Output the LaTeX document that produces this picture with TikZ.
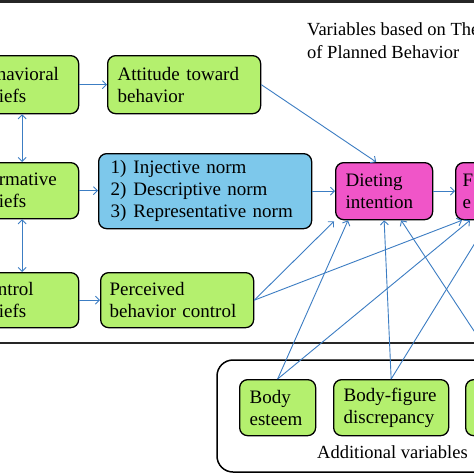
\documentclass[tikz,border=0pt]{standalone}
\usepackage{fontspec}
\setmainfont{Liberation Serif}
\usetikzlibrary{arrows.meta,calc}
\definecolor{boxgreen}{RGB}{180,240,110}
\definecolor{boxblue}{RGB}{125,200,235}
\definecolor{boxpink}{RGB}{240,85,200}
\definecolor{arrowblue}{RGB}{60,125,195}
\begin{document}
\begin{tikzpicture}[x=1pt,y=-1pt,
  box/.style={draw=black, line width=1.3pt, rounded corners=8pt, anchor=north west,
    align=left, inner xsep=10pt, inner ysep=0pt, font=\fontsize{19}{22}\selectfont},
  gbox/.style={box, fill=boxgreen},
  conn/.style={draw=arrowblue, line width=0.9pt, -{Straight Barb[length=4pt,width=8pt]}},
  dconn/.style={draw=arrowblue, line width=0.9pt, {Straight Barb[length=4pt,width=8pt]}-{Straight Barb[length=4pt,width=8pt]}},
  lbl/.style={anchor=base west, align=left, inner sep=0pt, font=\fontsize{18.5}{23}\selectfont}]
\useasboundingbox (0,0) rectangle (474,474);
\clip (0,0) rectangle (474,474);
\fill[white] (0,0) rectangle (474,474);
% frames
\draw[line width=2.2pt, draw=black!85] (-50,1.5) rectangle (600,343);
\draw[line width=1.5pt, rounded corners=16pt] (217,360) rectangle (700,472);
% labels
\node[lbl] (title) at (307,58) {Variables based on Theory\\of Planned Behavior};
\node[lbl] (addl) at (317,458) {Additional variables};
% boxes
\node[gbox, text width=93pt, minimum height=58pt] (beh) at (-35,55) {Behavioral\\beliefs};
\node[gbox, text width=133pt, minimum height=58pt] (att) at (107,55) {Attitude toward\\behavior};
\node[gbox, text width=93pt, minimum height=56pt] (norm) at (-35,162) {Normative\\beliefs};
\node[box, fill=boxblue, inner xsep=12pt, text width=189pt, minimum height=75pt] (inj) at (98,153) {1)\hspace{7pt}Injective norm\\2)\hspace{7pt}Descriptive norm\\3)\hspace{7pt}Representative norm};
\node[gbox, text width=93pt, minimum height=55pt] (ctl) at (-35,272) {Control\\beliefs};
\node[gbox, inner xsep=9pt, text width=135pt, minimum height=55pt] (pbc) at (100,272) {Perceived\\behavior control};
\node[box, fill=boxpink, text width=77pt, minimum height=57pt] (di) at (335,162) {Dieting\\intention};
\node[box, fill=boxpink, inner xsep=7pt, text width=91pt, minimum height=57pt] (re) at (455,162) {F\\e};
\node[gbox, text width=56pt, minimum height=56pt] (be) at (239,379) {Body\\esteem};
\node[gbox, text width=95pt, minimum height=56pt] (bfd) at (333,379) {Body-figure\\discrepancy};
\node[gbox, text width=60pt, minimum height=56pt] (bx3) at (465,379) {};
% connectors
\draw[conn] (beh) -- (att);
\draw[dconn] (beh) -- (norm);
\draw[dconn] (norm) -- (ctl);
\draw[conn] (norm.east) -- (inj.west |- norm.east);
\draw[conn] (ctl) -- (pbc);
\draw[conn] (inj.east |- di.west) -- (di.west);
\draw[conn] (di) -- (re);
\draw[conn] (att.east) -- ([xshift=-8pt]di.north);
\draw[conn] (pbc.east) -- ([xshift=-1pt,yshift=-1pt]di.south west);
\draw[conn] (pbc.east) -- ([xshift=7pt]re.south west);
\draw[conn] (be.north) -- ([xshift=13pt]di.south west);
\draw[conn] (be.north) -- ([xshift=15pt]re.south west);
\draw[conn] (bfd.north) -- (di.south);
\draw[conn] (bfd.north) -- ([xshift=34pt]re.south west);
\draw[conn] (bx3.north) -- ([xshift=17pt]di.south);
\end{tikzpicture}
\end{document}
